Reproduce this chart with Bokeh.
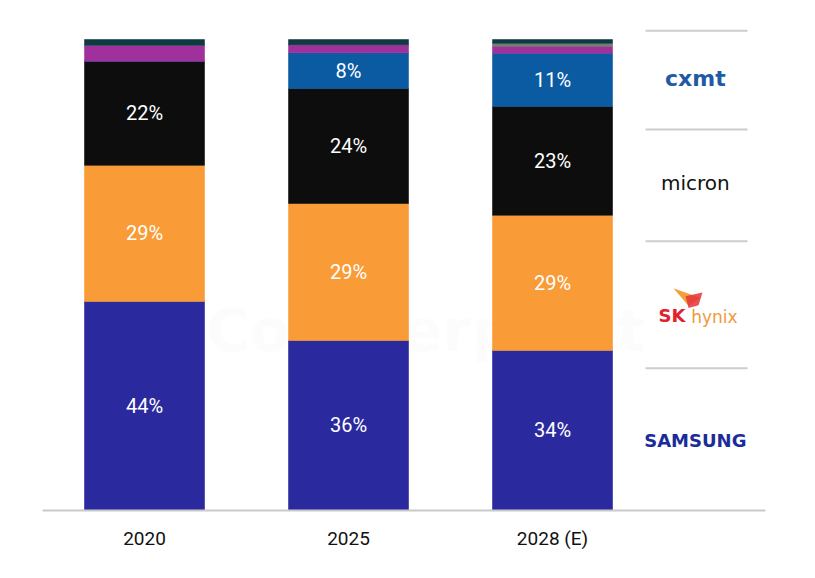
import numpy as np
from bokeh.plotting import figure
from bokeh.models import ColumnDataSource, Range1d, FixedTicker
from bokeh.core.properties import value
from bokeh.embed import file_html
from bokeh.resources import INLINE

# ---------------- data ----------------
years = ["2020", "2025", "2028 (E)"]
samsung = [44.4, 36.1, 34.0]
skhynix = [28.9, 29.1, 28.7]
micron = [22.1, 24.4, 23.1]
cxmt = [0.0, 7.6, 11.3]
other_purple = [3.4, 1.7, 1.5]
other_grey = [0.0, 0.0, 0.6]
other_teal = [1.2, 1.1, 0.8]

series = ["samsung", "skhynix", "micron", "cxmt", "other_purple", "other_grey", "other_teal"]
colors = ["#2a2a9e", "#f99b36", "#0d0d0d", "#0b5ba3", "#a0309c", "#6f8070", "#0f3a44"]
labelled = ["samsung", "skhynix", "micron", "cxmt"]

# ---------------- layout constants ----------------
W, H = 799, 562
xpos = [0.5, 1.5, 2.5]

src = ColumnDataSource(dict(x=xpos, years=years, samsung=samsung, skhynix=skhynix,
                            micron=micron, cxmt=cxmt, other_purple=other_purple,
                            other_grey=other_grey, other_teal=other_teal))

p = figure(width=W, height=H, x_range=Range1d(0, 3.544), y_range=Range1d(0, 106.6),
           output_backend="svg", toolbar_location=None,
           min_border_left=42, min_border_right=34, min_border_top=8, min_border_bottom=52)
p.background_fill_color = "white"
p.border_fill_color = "white"
p.outline_line_color = None
p.grid.visible = False
p.yaxis.visible = False

# faint watermark (behind)
p.text(x=[1.877], y=[38.3], text=["Counterpoint"], text_color="#dddddd", text_alpha=0.08,
       text_font=value("DejaVu Sans"), text_font_style="bold", text_font_size="59px",
       text_align="center", text_baseline="middle")

# bars
p.vbar_stack(series, x="x", width=0.588, color=colors, line_width=0.6, source=src)

# percentage labels
data = {"samsung": samsung, "skhynix": skhynix, "micron": micron, "cxmt": cxmt,
        "other_purple": other_purple, "other_grey": other_grey, "other_teal": other_teal}
cum = np.zeros(3)
lx, ly, lt = [], [], []
for s in series:
    v = np.array(data[s])
    if s in labelled:
        for i in range(3):
            if v[i] >= 5:
                lx.append(xpos[i])
                ly.append(cum[i] + v[i] / 2)
                lt.append(f"{round(v[i]):d}%")
    cum = cum + v
p.text(x=lx, y=ly, text=lt, text_color="white", text_font=value("Roboto"),
       text_font_size="20px", text_align="center", text_baseline="middle")

# x axis
ax = p.xaxis[0]
ax.ticker = FixedTicker(ticks=xpos)
ax.major_label_overrides = {xv: yl for xv, yl in zip(xpos, years)}
ax.axis_line_color = "#c9c9c9"
ax.axis_line_width = 2
ax.major_tick_line_color = None
ax.minor_tick_line_color = None
ax.major_label_standoff = 10
ax.major_label_text_font = "Roboto"
ax.major_label_text_font_size = "19px"
ax.major_label_text_color = "#111111"

# legend separators
sep_y = [101.9, 80.9, 57.2, 30.2]
p.segment(x0=[2.956] * 4, x1=[3.456] * 4, y0=sep_y, y1=sep_y, line_color="#cccccc", line_width=2)

# logos as text
lgx = 3.20
p.text(x=[lgx], y=[91.8], text=["cxmt"], text_color="#1f5aa6", text_font=value("DejaVu Sans"),
       text_font_style="bold", text_font_size="22px", text_align="center", text_baseline="middle")
p.text(x=[lgx], y=[69.6], text=["micron"], text_color="#111111", text_font=value("DejaVu Sans"),
       text_font_size="20px", text_align="center", text_baseline="middle")
p.text(x=[3.02], y=[41.4], text=["SK"], text_color="#e0222e", text_font=value("DejaVu Sans"),
       text_font_style="bold", text_font_size="18px", text_align="left", text_baseline="middle")
p.text(x=[3.18], y=[41.1], text=["hynix"], text_color="#ef9a3c", text_font=value("DejaVu Sans"),
       text_font_size="17px", text_align="left", text_baseline="middle")
# butterfly mark of SK logo
p.patch(x=[3.093, 3.225, 3.167], y=[47.2, 45.1, 43.4], color="#f3a03c", line_width=0)
p.patch(x=[3.152, 3.235, 3.216, 3.167], y=[45.5, 46.3, 43.6, 43.0], color="#e5323a",
        fill_alpha=0.85, line_width=0)
p.text(x=[lgx], y=[14.9], text=["SAMSUNG"], text_color="#1b2c9a", text_font=value("DejaVu Sans"),
       text_font_style="bold", text_font_size="18px", text_align="center", text_baseline="middle")

open("out.html", "w").write(file_html(p, INLINE))
